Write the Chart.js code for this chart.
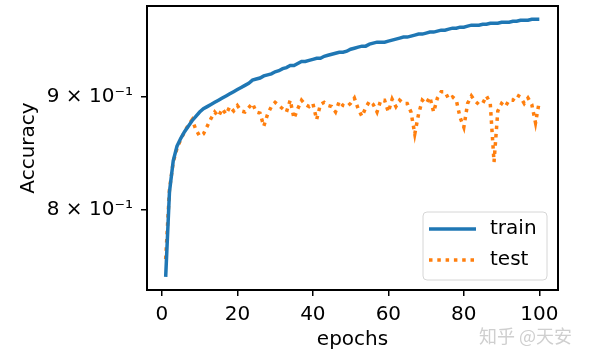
<!DOCTYPE html>
<html>
<head>
<meta charset="utf-8">
<title>Accuracy</title>
<script src="https://cdn.jsdelivr.net/npm/chart.js@4.4.0/dist/chart.umd.min.js"></script>
<style>
    html, body { margin: 0; padding: 0; background: #fff; }
    #wrap { position: relative; width: 590px; height: 359px; }
    #watermark {
        position: absolute; left: 479px; top: 322px;
        font-family: "Noto Sans CJK SC", sans-serif; font-size: 18px; color: #cfcfcf;
    }
</style>
</head>
<body>
<div id="wrap">
    <canvas id="accChart" width="590" height="359"></canvas>
    <div id="watermark">知乎 @天安</div>
</div>
<script>
const epochs = [
    1, 2, 3, 4, 5, 6, 7, 8, 9, 10, 11, 12, 13, 14, 15, 16, 17, 18, 19, 20,
    21, 22, 23, 24, 25, 26, 27, 28, 29, 30, 31, 32, 33, 34, 35, 36, 37, 38, 39, 40,
    41, 42, 43, 44, 45, 46, 47, 48, 49, 50, 51, 52, 53, 54, 55, 56, 57, 58, 59, 60,
    61, 62, 63, 64, 65, 66, 67, 68, 69, 70, 71, 72, 73, 74, 75, 76, 77, 78, 79, 80,
    81, 82, 83, 84, 85, 86, 87, 88, 89, 90, 91, 92, 93, 94, 95, 96, 97, 98, 99, 100
];

const trainAcc = [
    0.746, 0.815, 0.842, 0.855, 0.862, 0.868, 0.873, 0.878, 0.882, 0.886,
    0.889, 0.891, 0.893, 0.895, 0.897, 0.899, 0.901, 0.903, 0.905, 0.907,
    0.909, 0.911, 0.913, 0.916, 0.917, 0.918, 0.920, 0.921, 0.922, 0.924,
    0.925, 0.927, 0.928, 0.930, 0.930, 0.932, 0.934, 0.934, 0.935, 0.936,
    0.937, 0.937, 0.939, 0.940, 0.941, 0.942, 0.943, 0.943, 0.944, 0.946,
    0.947, 0.948, 0.949, 0.949, 0.951, 0.952, 0.953, 0.953, 0.953, 0.954,
    0.955, 0.956, 0.957, 0.958, 0.958, 0.959, 0.960, 0.961, 0.961, 0.962,
    0.963, 0.963, 0.964, 0.965, 0.965, 0.966, 0.967, 0.967, 0.968, 0.968,
    0.969, 0.970, 0.970, 0.970, 0.971, 0.971, 0.972, 0.972, 0.972, 0.973,
    0.973, 0.973, 0.974, 0.974, 0.975, 0.975, 0.975, 0.976, 0.976, 0.976
];

const testAcc = [
    0.760, 0.817, 0.841, 0.853, 0.861, 0.868, 0.874, 0.879, 0.870, 0.864,
    0.866, 0.873, 0.880, 0.886, 0.882, 0.889, 0.884, 0.891, 0.887, 0.892,
    0.887, 0.886, 0.890, 0.894, 0.886, 0.885, 0.873, 0.884, 0.891, 0.895,
    0.892, 0.889, 0.886, 0.897, 0.880, 0.889, 0.897, 0.893, 0.891, 0.894,
    0.879, 0.893, 0.895, 0.892, 0.891, 0.886, 0.896, 0.892, 0.891, 0.894,
    0.899, 0.889, 0.882, 0.890, 0.896, 0.893, 0.886, 0.897, 0.897, 0.886,
    0.898, 0.891, 0.897, 0.894, 0.894, 0.886, 0.866, 0.884, 0.897, 0.894,
    0.900, 0.886, 0.899, 0.905, 0.905, 0.898, 0.900, 0.897, 0.881, 0.872,
    0.894, 0.901, 0.896, 0.893, 0.894, 0.901, 0.894, 0.841, 0.887, 0.894,
    0.891, 0.897, 0.897, 0.902, 0.900, 0.894, 0.899, 0.893, 0.876, 0.896
];

const xTicks = [0, 20, 40, 60, 80, 100];
const yTicks = [0.8, 0.9];
const yTickLabels = ['8 \u00d7 10\u207b\u00b9', '9 \u00d7 10\u207b\u00b9'];

const seriesNames = ['train', 'test'];
const blue = '#1f77b4';
const orange = '#ff7f0e';
const font = 'DejaVu Sans';

// full box around the plot, like matplotlib spines
const frame = {
    id: 'frame',
    afterDraw(chart) {
        const { ctx, chartArea: a } = chart;
        ctx.save();
        ctx.strokeStyle = '#000';
        ctx.lineWidth = 2;
        ctx.strokeRect(a.left, a.top, a.right - a.left, a.bottom - a.top);
        ctx.restore();
    }
};

// legend drawn inside the plot, lower right
const innerLegend = {
    id: 'innerLegend',
    afterDraw(chart) {
        const { ctx, chartArea: a } = chart;
        const w = 124, h = 68;
        const x = a.right - 11 - w, y = a.bottom - 10 - h;
        ctx.save();
        ctx.beginPath();
        ctx.roundRect(x, y, w, h, 4);
        ctx.fillStyle = 'rgba(255,255,255,0.8)';
        ctx.fill();
        ctx.strokeStyle = '#d6d6d6';
        ctx.lineWidth = 1;
        ctx.stroke();
        ctx.font = '20px "' + font + '"';
        ctx.textBaseline = 'middle';
        chart.data.datasets.forEach((ds, i) => {
            const ly = y + 17 + i * 31;
            ctx.beginPath();
            ctx.strokeStyle = ds.borderColor;
            ctx.lineWidth = ds.borderWidth;
            ctx.setLineDash(ds.borderDash || []);
            ctx.moveTo(x + 6, ly);
            ctx.lineTo(x + 53, ly);
            ctx.stroke();
            ctx.setLineDash([]);
            ctx.fillStyle = '#000';
            ctx.fillText(ds.label, x + 67, ly);
        });
        ctx.restore();
    }
};

const data = {
    datasets: [{
        label: seriesNames[0],
        data: epochs.map((e, i) => ({ x: e, y: trainAcc[i] })),
        borderColor: blue,
        borderWidth: 3.5,
        pointRadius: 0,
        tension: 0
    }, {
        label: seriesNames[1],
        data: epochs.map((e, i) => ({ x: e, y: testAcc[i] })),
        borderColor: orange,
        borderWidth: 3.5,
        borderDash: [3.5, 4.8],
        borderCapStyle: 'butt',
        pointRadius: 0,
        tension: 0
    }]
};

const config = {
    type: 'line',
    data: data,
    options: {
        responsive: false,
        animation: false,
        devicePixelRatio: 1,
        layout: { padding: { left: 0, right: 32, top: 6, bottom: 0 } },
        scales: {
            x: {
                type: 'linear',
                min: -3.95,
                max: 104.95,
                afterBuildTicks: scale => { scale.ticks = xTicks.map(v => ({ value: v })); },
                afterFit: scale => {
                    scale.height = 69;
                    scale.paddingLeft = 0;
                    scale.paddingRight = 0;
                },
                grid: { display: true, drawOnChartArea: false, drawTicks: true, tickLength: 6, color: '#000', lineWidth: 1.5 },
                border: { display: false },
                ticks: {
                    color: '#000',
                    padding: 7,
                    maxRotation: 0,
                    font: { family: font, size: 20 },
                    callback: v => String(v)
                },
                title: {
                    display: true,
                    text: 'epochs',
                    color: '#000',
                    font: { family: font, size: 20 },
                    padding: { top: 0, bottom: 7 }
                }
            },
            y: {
                type: 'logarithmic',
                min: 0.7359,
                max: 0.9896,
                afterBuildTicks: scale => { scale.ticks = yTicks.map(v => ({ value: v })); },
                afterFit: scale => {
                    scale.width = 147;
                    scale.paddingTop = 0;
                    scale.paddingBottom = 0;
                },
                grid: { display: true, drawOnChartArea: false, drawTicks: true, tickLength: 6, color: '#000', lineWidth: 1.5 },
                border: { display: false },
                ticks: {
                    color: '#000',
                    padding: 8,
                    font: { family: font, size: 20 },
                    callback: v => {
                        const i = yTicks.indexOf(v);
                        return i >= 0 ? yTickLabels[i] : '';
                    }
                },
                title: {
                    display: true,
                    text: 'Accuracy',
                    color: '#000',
                    font: { family: font, size: 20 },
                    padding: { top: 17, bottom: 0 }
                }
            }
        },
        plugins: {
            legend: { display: false },
            tooltip: { enabled: false }
        }
    },
    plugins: [frame, innerLegend]
};

const ctx = document.getElementById('accChart').getContext('2d');
const accChart = new Chart(ctx, config);
</script>
</body>
</html>
